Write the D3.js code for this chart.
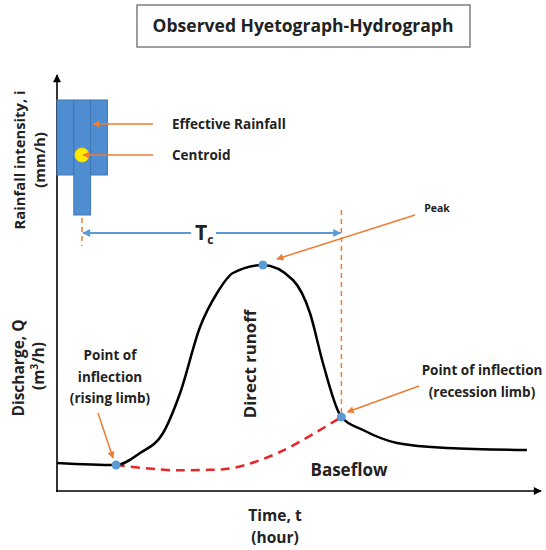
<!DOCTYPE html>
<html>
<head>
<meta charset="utf-8">
<script src="https://cdn.jsdelivr.net/npm/d3@7"></script>
<style>
    body { margin: 0; background: #fff; }
    svg text { font-family: "Open Sans", Lato, sans-serif; font-weight: bold; fill: #222; }
</style>
</head>
<body>
<svg id="chart" width="546" height="550"></svg>
<script>
/*jslint browser: true*/
/*global d3*/

// hyetograph: three effective rainfall blocks (start time in hours, intensity)
var rainStart = [0, 0.7, 1.4],
    rainWidth = 0.7,
    rainDepth = [3.0, 4.6, 3.0],

    // observed hydrograph (time h, discharge)
    hydroTime = [0, 2.46, 3.46, 4.42, 5.13, 5.96, 6.67, 7.33, 8.58, 9.83, 10.54, 11.08, 11.85, 12.75, 14.17, 16.25, 19.58],
    hydroQ = [1.12, 1.04, 1.52, 2.32, 3.92, 6.56, 7.92, 8.72, 9.04, 8.44, 7.12, 5.12, 2.96, 2.44, 1.92, 1.72, 1.64],

    // separated baseflow between the two inflection points
    baseTime = [2.46, 4.58, 5.96, 7.33, 9.29, 11.85],
    baseQ = [1.04, 0.84, 0.84, 0.92, 1.56, 2.96],

    // rising inflection, peak, recession inflection
    pointTime = [2.46, 8.58, 11.85],
    pointQ = [1.04, 9.04, 2.96],

    centroidTime = 1.04,
    centroidDepth = 2.2;

(function () {
    "use strict";

    var svg = d3.select('#chart'),
        orange = '#ed7d31',
        blue = '#5b9bd5',

        x = d3.scaleLinear().domain([0, 20]).range([57, 537]),
        yQ = d3.scaleLinear().domain([0, 10]).range([491, 241]),
        yRain = d3.scaleLinear().domain([0, 5]).range([100, 225]),

        defs = svg.append('defs'),

        /**
         * Add a filled triangle marker.
         */
        marker = function (id, color, w, h) {
            defs.append('marker')
                .attr('id', id)
                .attr('viewBox', '0 0 10 10')
                .attr('refX', 9)
                .attr('refY', 5)
                .attr('markerUnits', 'userSpaceOnUse')
                .attr('markerWidth', w)
                .attr('markerHeight', h)
                .attr('orient', 'auto-start-reverse')
                .append('path')
                .attr('d', 'M0,0L10,5L0,10Z')
                .attr('fill', color);
        },

        arrow = function (x1, y1, x2, y2, color, id, width) {
            return svg.append('line')
                .attr('x1', x1).attr('y1', y1)
                .attr('x2', x2).attr('y2', y2)
                .attr('stroke', color)
                .attr('stroke-width', width || 1.5)
                .attr('marker-end', 'url(#' + id + ')');
        },

        label = function (cx, cy, lines, size, lineHeight) {
            var t = svg.append('text')
                .attr('text-anchor', 'middle')
                .attr('font-size', size);
            lines.forEach(function (s, i) {
                t.append('tspan')
                    .attr('x', cx)
                    .attr('y', cy + i * lineHeight)
                    .text(s);
            });
            return t;
        },

        line = d3.line().curve(d3.curveMonotoneX),
        unit;

    marker('arrOrange', orange, 9, 7);
    marker('arrBlue', blue, 10, 8);
    marker('arrAxis', '#000', 10, 8);

    // title box
    svg.append('rect')
        .attr('x', 137).attr('y', 5)
        .attr('width', 333).attr('height', 42)
        .attr('fill', '#fff')
        .attr('stroke', '#7f7f7f')
        .attr('stroke-width', 1.5);
    label(303, 32, ['Observed Hyetograph-Hydrograph'], 17.5, 0);

    // axes
    arrow(x(0), yQ(0) + 1, x(0), 75, '#000', 'arrAxis', 1.6);
    arrow(x(0) - 1, yQ(0), 541, yQ(0), '#000', 'arrAxis', 1.6);

    // rainfall bars, hanging from the top
    svg.selectAll('rect.rain')
        .data(rainDepth)
        .enter().append('rect')
        .attr('class', 'rain')
        .attr('x', function (d, i) { return x(rainStart[i]); })
        .attr('y', yRain(0))
        .attr('width', x(rainWidth) - x(0))
        .attr('height', function (d) { return yRain(d) - yRain(0); })
        .attr('fill', '#4e8dd0')
        .attr('stroke', '#3f77b3')
        .attr('stroke-width', 1);

    svg.append('circle')
        .attr('cx', x(centroidTime))
        .attr('cy', yRain(centroidDepth))
        .attr('r', 7)
        .attr('fill', '#ffeb00')
        .attr('stroke', '#f5d800');

    arrow(153, 124, 93, 124, orange, 'arrOrange');
    arrow(153, yRain(centroidDepth), x(centroidTime) + 1, yRain(centroidDepth), orange, 'arrOrange');
    svg.append('text').attr('x', 172).attr('y', 129).attr('font-size', 13.5).text('Effective Rainfall');
    svg.append('text').attr('x', 172).attr('y', 160).attr('font-size', 13.5).text('Centroid');

    // Tc: centroid to recession inflection
    svg.append('line')
        .attr('x1', x(centroidTime)).attr('x2', x(centroidTime))
        .attr('y1', yRain(d3.max(rainDepth)) + 3).attr('y2', 246)
        .attr('stroke', orange).attr('stroke-width', 1.5)
        .attr('stroke-dasharray', '5,4');
    svg.append('line')
        .attr('x1', x(pointTime[2])).attr('x2', x(pointTime[2]))
        .attr('y1', 210).attr('y2', yQ(pointQ[2]))
        .attr('stroke', orange).attr('stroke-width', 1.5)
        .attr('stroke-dasharray', '5,4');
    arrow(191, 233, x(centroidTime) + 1, 233, blue, 'arrBlue', 2);
    arrow(216, 233, x(pointTime[2]) - 1, 233, blue, 'arrBlue', 2);
    svg.append('text')
        .attr('x', 195).attr('y', 240)
        .attr('font-size', 21)
        .text('T')
        .append('tspan')
        .attr('font-size', 12)
        .attr('dy', 4)
        .text('c');

    // baseflow separation
    svg.append('path')
        .attr('d', d3.line().curve(d3.curveCatmullRom.alpha(0.5))(baseTime.map(function (t, i) { return [x(t), yQ(baseQ[i])]; })))
        .attr('fill', 'none')
        .attr('stroke', '#e8262a')
        .attr('stroke-width', 2.5)
        .attr('stroke-dasharray', '9,6');

    // hydrograph
    svg.append('path')
        .attr('d', line(hydroTime.map(function (t, i) { return [x(t), yQ(hydroQ[i])]; })))
        .attr('fill', 'none')
        .attr('stroke', '#000')
        .attr('stroke-width', 2.5);

    svg.selectAll('circle.pt')
        .data(pointTime)
        .enter().append('circle')
        .attr('class', 'pt')
        .attr('cx', function (d) { return x(d); })
        .attr('cy', function (d, i) { return yQ(pointQ[i]); })
        .attr('r', 4.5)
        .attr('fill', blue);

    // annotations
    arrow(415, 215, x(pointTime[1]) + 14, yQ(pointQ[1]) - 6, orange, 'arrOrange');
    label(437, 212, ['Peak'], 10.5, 0);

    arrow(419, 386, x(pointTime[2]) + 6, yQ(pointQ[2]) - 5, orange, 'arrOrange');
    label(482, 375, ['Point of inflection', '(recession limb)'], 13.5, 22);

    arrow(98, 413, x(pointTime[0]) - 3, yQ(pointQ[0]) - 7, orange, 'arrOrange');
    label(110, 360, ['Point of', 'inflection', '(rising limb)'], 13.5, 21.5);

    label(0, 0, ['Direct runoff'], 16.8, 0)
        .attr('transform', 'translate(256,364) rotate(-90)');
    label(349, 476, ['Baseflow'], 17, 0);

    label(275, 521, ['Time, t'], 15.5, 0);
    label(275, 543, ['(hour)'], 15.5, 0);

    label(0, 0, ['Rainfall intensity, i'], 14.8, 0)
        .attr('transform', 'translate(25,160) rotate(-90)');
    label(0, 0, ['(mm/h)'], 15, 0)
        .attr('transform', 'translate(45,160) rotate(-90)');

    label(0, 0, ['Discharge, Q'], 15.5, 0)
        .attr('transform', 'translate(24,368) rotate(-90)');
    unit = svg.append('text')
        .attr('text-anchor', 'middle')
        .attr('font-size', 15.5)
        .attr('transform', 'translate(44,366) rotate(-90)');
    unit.append('tspan').text('(m');
    unit.append('tspan').attr('font-size', 10).attr('dy', -6).text('3');
    unit.append('tspan').attr('dy', 6).text('/h)');
}());
</script>
</body>
</html>
